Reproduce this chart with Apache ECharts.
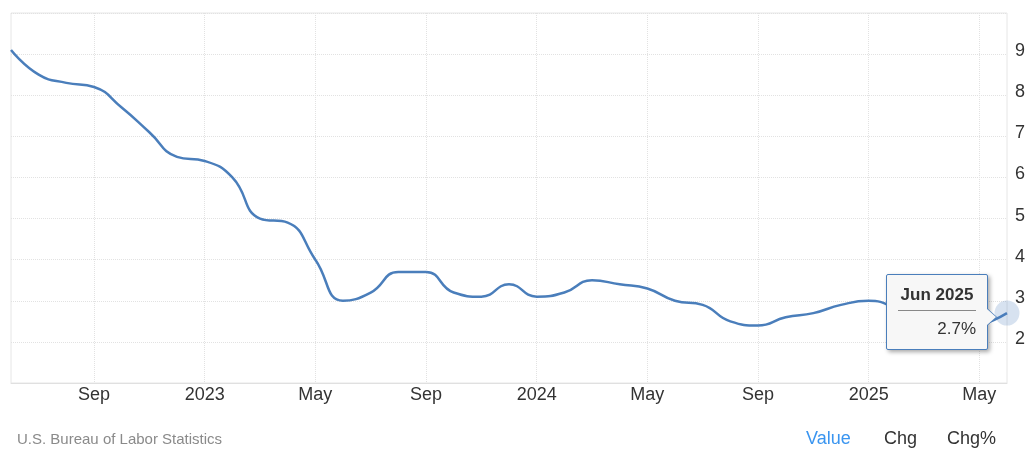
<!DOCTYPE html>
<html>
<head>
<meta charset="utf-8">
<script src="https://cdn.jsdelivr.net/npm/echarts@6/dist/echarts.min.js"></script>
<style>
html,body{margin:0;padding:0;background:#fff;}
#c{width:1035px;height:467px;}
</style>
</head>
<body>
<div id="c"></div>
<script>
var months = ['2022-06','2022-07','2022-08','2022-09','2022-10','2022-11','2022-12',
  '2023-01','2023-02','2023-03','2023-04','2023-05','2023-06','2023-07','2023-08','2023-09','2023-10','2023-11','2023-12',
  '2024-01','2024-02','2024-03','2024-04','2024-05','2024-06','2024-07','2024-08','2024-09','2024-10','2024-11','2024-12',
  '2025-01','2025-02','2025-03','2025-04','2025-05','2025-06'];
var values = [9.1,8.5,8.3,8.2,7.7,7.1,6.5,
  6.4,6.0,5.0,4.9,4.0,3.0,3.2,3.7,3.7,3.2,3.1,3.4,
  3.1,3.2,3.5,3.4,3.3,3.0,2.9,2.5,2.4,2.6,2.7,2.9,
  3.0,2.8,2.4,2.3,2.4,2.7];
var monthNames = ['Jan','Feb','Mar','Apr','May','Jun','Jul','Aug','Sep','Oct','Nov','Dec'];
var yTicks = [2,3,4,5,6,7,8,9];
var sourceText = 'U.S. Bureau of Labor Statistics';
var tabs = ['Value','Chg','Chg%'];

var lastIdx = values.length - 1;
var endMark = values.map(function(v,i){ return i === lastIdx ? v : null; });
function fmtMonth(s){
  var p = s.split('-'); var m = parseInt(p[1],10);
  return m === 1 ? p[0] : monthNames[m-1];
}
function fmtLong(s){
  var p = s.split('-'); return monthNames[parseInt(p[1],10)-1] + ' ' + p[0];
}
var showIdx = function(i){ return i % 4 === 3; };

var chart = echarts.init(document.getElementById('c'), null, {renderer:'canvas'});
chart.setOption({
  animation:false,
  grid:{left:11, right:28, top:13, bottom:84, show:true, borderColor:'#e6e6e6', borderWidth:1},
  xAxis:{
    type:'category', data:months, boundaryGap:false,
    axisLine:{show:true, lineStyle:{color:'#e0e0e0'}},
    axisTick:{show:false},
    axisLabel:{interval:function(i){return showIdx(i);}, formatter:fmtMonth, color:'#333', fontSize:18, fontFamily:'Liberation Sans, Arial', margin:3},
    splitLine:{show:true, interval:function(i){return showIdx(i);}, lineStyle:{color:'#e2e2e2', type:'dotted'}}
  },
  yAxis:{
    type:'value', position:'right', min:1, max:10, interval:1,
    axisLine:{show:false}, axisTick:{show:false},
    axisLabel:{color:'#333', fontSize:18, fontFamily:'Liberation Sans, Arial', margin:8,
      formatter:function(v){ return yTicks.indexOf(v) >= 0 ? '{a|' + v + '}' : ''; },
      rich:{a:{color:'#333', fontSize:18, fontFamily:'Liberation Sans, Arial', padding:[0,0,6,0]}}},
    splitLine:{show:true, lineStyle:{color:'#e2e2e2', type:'dotted'}}
  },
  tooltip:{
    trigger:'item', alwaysShowContent:true, transitionDuration:0, showDelay:0,
    backgroundColor:'#f7f7f7', borderColor:'#4a7ebb', borderWidth:1, padding:[10,11,10,11],
    extraCssText:'box-shadow:2px 2px 4px rgba(0,0,0,0.35);border-radius:2px;overflow:visible;',
    position:function(){ return [886, 274]; },
    formatter:function(p){
      var i = p.dataIndex;
      return '<div style="position:relative;font-family:Liberation Sans,Arial;width:78px;">' +
        '<div style="font-weight:bold;font-size:17px;line-height:20px;color:#333;text-align:center;padding-bottom:5px;border-bottom:1px solid #888;margin-bottom:8px;">' + fmtLong(months[i]) + '</div>' +
        '<div style="font-size:17px;line-height:20px;color:#333;text-align:right;">' + values[i].toFixed(1) + '%</div>' +
        '<div style="position:absolute;right:-21px;top:23px;width:0;height:0;border-top:9px solid transparent;border-bottom:9px solid transparent;border-left:10px solid #4a7ebb;"></div>' +
        '<div style="position:absolute;right:-20px;top:24px;width:0;height:0;border-top:8px solid transparent;border-bottom:8px solid transparent;border-left:9px solid #f7f7f7;"></div>' +
        '</div>';
    }
  },
  series:[
    {type:'line', data:values, smooth:0.5, showSymbol:false, symbol:'none',
      lineStyle:{color:'#4a7ebb', width:2.5}, itemStyle:{color:'#4a7ebb'}, emphasis:{disabled:true}, silent:true, z:3},
    {type:'scatter', data:endMark, symbolSize:25, itemStyle:{color:'rgba(74,126,187,0.28)'}, z:4, emphasis:{disabled:true}}
  ],
  graphic:[
    {type:'text', left:17, top:432, style:{text:sourceText, fill:'#8a8a8a', font:'15px Liberation Sans, Arial'}},
    {type:'text', left:806, top:430, style:{text:tabs[0], fill:'#3a95f0', font:'18px Liberation Sans, Arial'}},
    {type:'text', left:884, top:430, style:{text:tabs[1], fill:'#333', font:'18px Liberation Sans, Arial'}},
    {type:'text', left:947, top:430, style:{text:tabs[2], fill:'#333', font:'18px Liberation Sans, Arial'}}
  ]
});
chart.dispatchAction({type:'showTip', seriesIndex:1, dataIndex:lastIdx});
</script>
</body>
</html>
